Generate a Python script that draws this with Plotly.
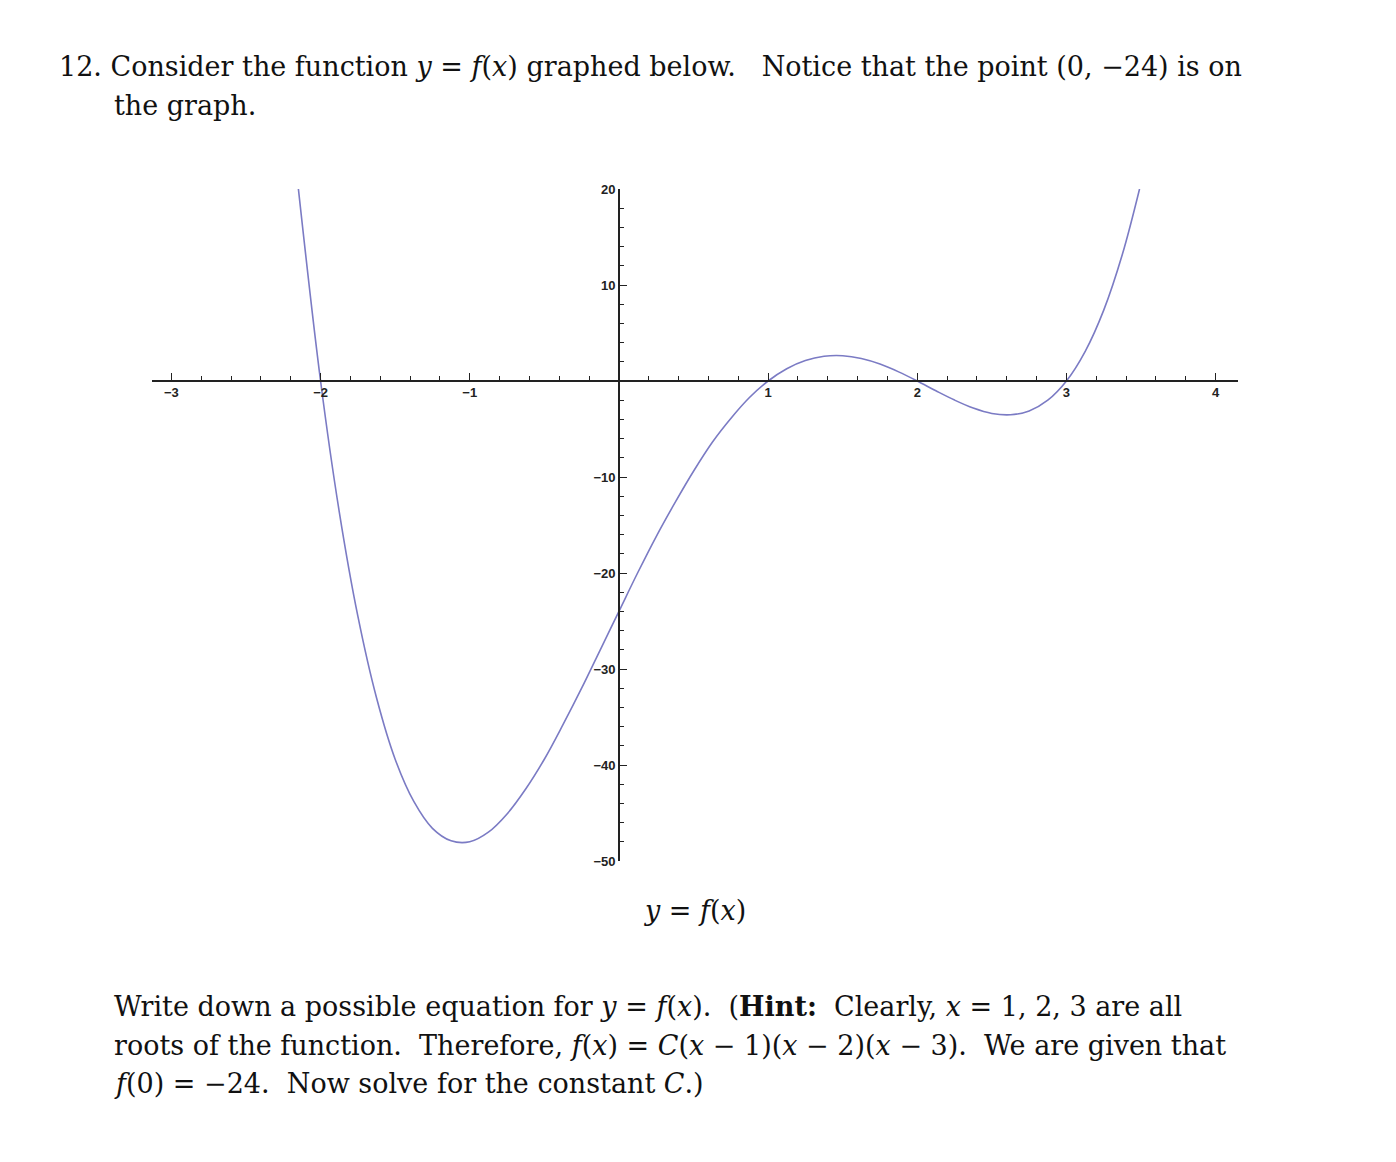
import plotly.graph_objects as go

x_vals = [-2.15, -2.0, -1.875, -1.75, -1.625, -1.5, -1.375, -1.25, -1.125, -1.0, -0.875, -0.75, -0.625,
          -0.5, -0.375, -0.25, -0.125, 0.0, 0.125, 0.25, 0.375, 0.5, 0.625, 0.75, 0.875,
          1.0, 1.125, 1.25, 1.375, 1.5, 1.625, 1.75, 1.875, 2.0, 2.125, 2.25, 2.375, 2.5, 2.625, 2.75, 2.875,
          3.0, 3.125, 3.25, 3.375, 3.49]
y_vals = [20.2, 0.0, -13.6, -24.5, -33.0, -39.4, -43.8, -46.6, -47.9, -48.0, -47.0, -45.1, -42.5,
          -39.4, -35.8, -32.0, -28.0, -24.0, -20.0, -16.2, -12.7, -9.4, -6.4, -3.9, -1.72,
          0.0, 1.28, 2.13, 2.57, 2.63, 2.34, 1.76, 0.95, 0.0, -1.02, -1.99, -2.82, -3.38, -3.52, -3.12, -2.0,
          0.0, 3.06, 7.38, 13.2, 20.0]
x_ticks = [-3, -2, -1, 1, 2, 3, 4]
y_ticks = [-50, -40, -30, -20, -10, 10, 20]

OFF = 8
L, R, T, B = 152 - OFF, 1238 - OFF, 189 - OFF, 861 - OFF
W, H = 1396, 1162
xr = [-3.13, 4.15]
yr = [-50, 20]

fig = go.Figure(go.Scatter(x=x_vals, y=y_vals, mode="lines",
                           line=dict(color="#7b7bc4", width=1.6, shape="spline", smoothing=1.0), hoverinfo="skip"))

tf = dict(family="Liberation Sans", size=13, color="#222")
fmt = lambda v: "<b>−%d</b>" % -v if v < 0 else "<b>%d</b>" % v
fig.update_layout(
    width=W, height=H, margin=dict(l=L, r=W - R, t=T, b=H - B),
    paper_bgcolor="white", plot_bgcolor="white", showlegend=False,
    xaxis=dict(range=xr, anchor="free", position=(0 - yr[0]) / (yr[1] - yr[0]),
               tickvals=x_ticks, ticktext=[fmt(v) for v in x_ticks],
               ticks="inside", ticklen=7, tickcolor="#222", showline=True, linecolor="#222", linewidth=1.5,
               showgrid=False, zeroline=False, tickfont=tf,
               minor=dict(dtick=0.2, ticks="inside", ticklen=4, tickcolor="#222")),
    yaxis=dict(range=yr, anchor="free", position=(0 - xr[0]) / (xr[1] - xr[0]),
               tickvals=y_ticks, ticktext=[fmt(v) for v in y_ticks],
               ticks="inside", ticklen=7, tickcolor="#222", showline=True, linecolor="#222", linewidth=1.5,
               showgrid=False, zeroline=False, tickfont=tf,
               minor=dict(dtick=2, ticks="inside", ticklen=4, tickcolor="#222")),
)

def px(xp): return (xp - OFF - L) / (R - L)
def py(yp): return (B - (yp - OFF)) / (B - T)

font = dict(family="DejaVu Serif", size=27, color="#111")
texts = [
    (57, 67, "left", "12. Consider the function <i>y</i> = <i>f</i>(<i>x</i>) graphed below.   Notice that the point (0, −24) is on"),
    (112, 105, "left", "the graph."),
    (695, 910, "center", "<i>y</i> = <i>f</i>(<i>x</i>)"),
    (112, 1006, "left", "Write down a possible equation for <i>y</i> = <i>f</i>(<i>x</i>).  (<b>Hint:</b>  Clearly, <i>x</i> = 1, 2, 3 are all"),
    (112, 1045, "left", "roots of the function.  Therefore, <i>f</i>(<i>x</i>) = <i>C</i>(<i>x</i> − 1)(<i>x</i> − 2)(<i>x</i> − 3).  We are given that"),
    (112, 1083, "left", "<i>f</i>(0) = −24.  Now solve for the constant <i>C</i>.)"),
]
for x0, y0, anc, t in texts:
    fig.add_annotation(x=px(x0), y=py(y0), xref="paper", yref="paper", text=t, showarrow=False,
                       xanchor=anc, yanchor="middle", font=font)

fig.write_html("out.html")
